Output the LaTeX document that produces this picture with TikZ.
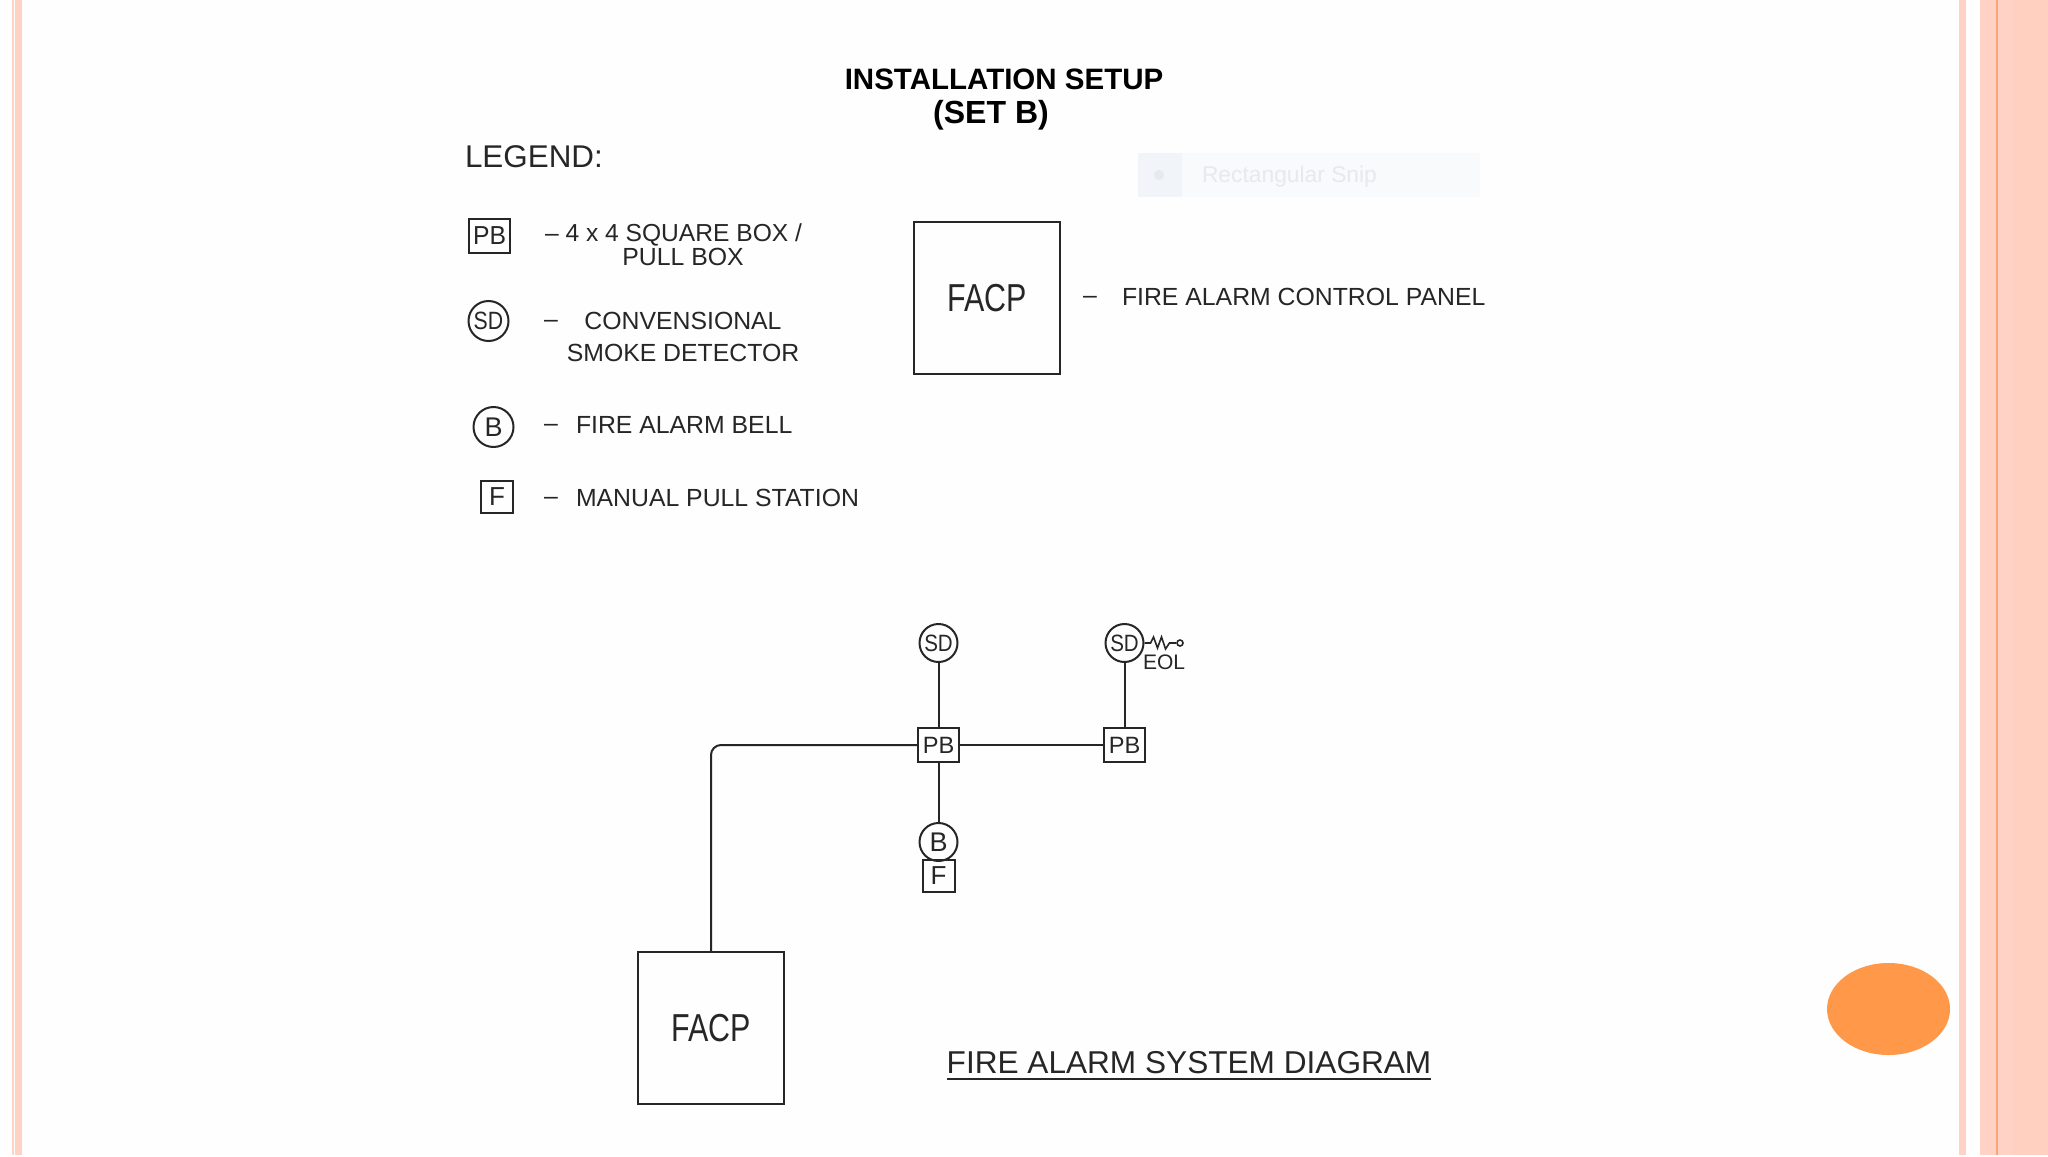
\documentclass[tikz,border=0pt]{standalone}
\usepackage{fontspec}
\usepackage{graphicx}
\usetikzlibrary{shapes.geometric}
\setmainfont{Liberation Sans}
\definecolor{barpink}{HTML}{FFD2C5}
\definecolor{bardeep}{HTML}{FFCFC0}
\definecolor{barline}{HTML}{FBA679}
\definecolor{inkgray}{HTML}{262626}
\definecolor{dotorange}{HTML}{FF9848}
\definecolor{snipfill}{HTML}{F8FAFC}
\definecolor{snipcell}{HTML}{F1F4F8}
\definecolor{sniptext}{HTML}{E6E9ED}
\newcommand{\fsize}[1]{\fontsize{#1}{#1}\selectfont}
\newcommand{\squeeze}[2]{\scalebox{#1}[1]{#2}}
\begin{document}
\begin{tikzpicture}[x=0.5pt,y=-0.5pt,line width=1pt,draw=inkgray,text=inkgray,inner sep=0pt,
                pb node/.style={rectangle,draw,minimum width=20.5pt,minimum height=17pt,font=\fsize{11.8}},
                sd node/.style={circle,draw,minimum size=19pt,font=\fsize{11.8}},
                b node/.style={circle,draw,minimum size=19pt,font=\fsize{13.5}},
                f node/.style={rectangle,draw,minimum width=16pt,minimum height=16pt,font=\fsize{13}},
                facp node/.style={rectangle,draw,minimum width=73pt,minimum height=76pt,font=\fsize{19.5}},
                legend text/.style={font=\fsize{12.4},align=center},
                heading/.style={font=\bfseries\fsize{14.75},text=black}]
  \useasboundingbox (0,0) rectangle (2048,1156);
  \fill[white!99.5!black] (0,0) rectangle (2048,1156);

  % side bars
  \fill[barpink] (12,0) rectangle (14,1155);
  \fill[barpink] (15,0) rectangle (22,1155);
  \fill[barpink] (1959,0) rectangle (1966,1155);
  \fill[barpink] (1980,0) rectangle (2048,1155);
  \fill[bardeep] (2013,0) rectangle (2048,1155);
  \fill[barline] (1996,0) rectangle (1998,1155);
  \node[ellipse,fill=dotorange,minimum width=61.5pt,minimum height=46pt] (dot) at (1888.5,1009) {};

  % title
  \node[heading] (title) at (1004,79) {INSTALLATION SETUP};
  \node[heading,font=\bfseries\fsize{16}] (setb) at (991,115) {(SET B)};
  \node[font=\fsize{15.7},anchor=west] (legend) at (464,157) {LEGEND:};

  % faded snip bar
  \node[rectangle,fill=snipfill,minimum width=171pt,minimum height=22pt] (snip) at (1309,175) {};
  \node[rectangle,fill=snipcell,minimum width=22pt,minimum height=22pt] (snipcell) at (1160,175) {};
  \node[circle,fill=sniptext,minimum size=5pt] (snipdot) at (1159,175) {};
  \node[font=\fsize{11.4},text=sniptext,anchor=west] (sniplabel) at (1201,177) {Rectangular Snip};

  % legend
  \node[pb node,font=\fsize{13}] (lpb) at (489.5,236) {\squeeze{0.95}{PB}};
  \node[sd node,minimum size=20pt,font=\fsize{12.5}] (lsd) at (488.5,321) {\squeeze{0.85}{SD}};
  \node[b node,minimum size=20pt] (lb) at (493.5,427) {B};
  \node[f node] (lf) at (497,497) {F};
  \node[legend text,font=\fsize{12.3},anchor=west] (lpb1) at (544,235) {-- 4 x 4 SQUARE BOX /};
  \node[legend text] (lpb2) at (683,257) {PULL BOX};
  \node[legend text] (lsd0) at (551,324) {--};
  \node[legend text] (lsd1) at (683,321) {CONVENSIONAL};
  \node[legend text] (lsd2) at (683,353) {SMOKE DETECTOR};
  \node[legend text] (lb0) at (551,428) {--};
  \node[legend text,anchor=west] (lb1) at (575,425) {FIRE ALARM BELL};
  \node[legend text] (lf0) at (551,501) {--};
  \node[legend text,anchor=west] (lf1) at (575,498) {MANUAL PULL STATION};
  \node[facp node] (lfacp) at (987,298) {\raisebox{-1.5pt}{\squeeze{0.78}{FACP}}};
  \node[legend text] (lfacp0) at (1090,300) {--};
  \node[legend text,anchor=west] (lfacp1) at (1121,297) {FIRE ALARM CONTROL PANEL};

  % diagram
  \node[pb node] (pb1) at (938.5,745) {PB};
  \node[pb node,node distance=93pt] (pb2) [right of=pb1] {PB};
  \node[sd node,node distance=51pt] (sd1) [above of=pb1] {\squeeze{0.87}{SD}};
  \node[sd node,node distance=51pt] (sd2) [above of=pb2] {\squeeze{0.87}{SD}};
  \node[b node,node distance=48.5pt] (b1) [below of=pb1] {B};
  \node[f node,node distance=17pt] (f1) [below of=b1] {F};
  \node[facp node] (facp) at (711,1028) {\raisebox{-0.5pt}{\squeeze{0.78}{FACP}}};
  \node[circle,draw,line width=0.8pt,minimum size=3pt] (eol) at (1180,643) {};
  \node[font=\fsize{10.5}] (eoltext) at (1164,662) {EOL};
  \node[font=\fsize{15.8}] (system) at (1189,1063) {FIRE ALARM SYSTEM DIAGRAM};
  \coordinate (ula) at (947,1079);
  \coordinate (ulb) at (1431,1079);

  \path
    (sd1) edge (pb1)
    (sd2) edge (pb2)
    (pb1) edge (pb2)
    (pb1) edge (b1)
    (ula) edge (ulb)
  ;
  \draw[rounded corners=5pt] (facp.north) -- (facp.north |- pb1.west) -- (pb1.west);
  \draw[line width=0.8pt] (sd2.east) -- ++(6,0) -- ++(3,-6) -- ++(4,11) -- ++(4,-11) -- ++(4,12) -- ++(4,-6) -- (eol);
\end{tikzpicture}
\end{document}
